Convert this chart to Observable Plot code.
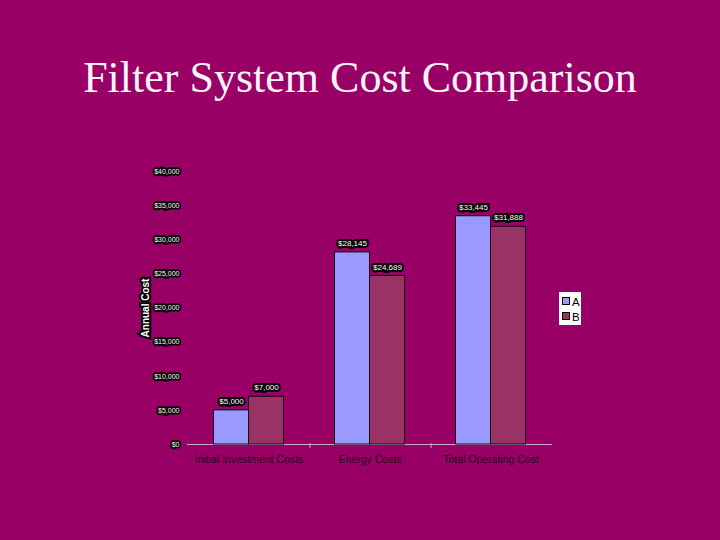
<!DOCTYPE html>
<html>
<head>
<meta charset="utf-8">
<script src="https://cdn.jsdelivr.net/npm/d3@7"></script>
<script src="https://cdn.jsdelivr.net/npm/@observablehq/plot@0.6"></script>
<style>
  html, body { margin: 0; padding: 0; }
  body { width: 720px; height: 540px; background: #990066; position: relative; overflow: hidden; font-family: "Liberation Sans", Arial, sans-serif; }
  #title { position: absolute; left: 0; top: 56px; width: 720px; text-align: center; font-family: "Liberation Serif", "Times New Roman", serif; font-size: 44px; line-height: 1; color: #fff4ff; }
  #chart { position: absolute; left: 0; top: 140px; }
  #legend { position: absolute; left: 559px; top: 292px; width: 22px; height: 33px; background: #ffffff; }
  .item { position: absolute; left: 3px; height: 12px; font-size: 11.5px; line-height: 12px; color: #000; }
  .sw { display: inline-block; width: 6px; height: 6px; border: 1px solid #000; margin-right: 2px; vertical-align: 1px; }
</style>
</head>
<body>
<div id="title">Filter System Cost Comparison</div>
<div id="chart"></div>
<div id="legend">
  <div class="item" style="top:4px"><span class="sw" style="background:#9999ff"></span>A</div>
  <div class="item" style="top:19px"><span class="sw" style="background:#993366"></span>B</div>
</div>
<script>
const categories = ["Initial Investment Costs", "Energy Costs", "Total Operating Cost"];
const seriesA = [5000, 28145, 33445];
const seriesB = [7000, 24689, 31888];
const yTicks = [0, 5000, 10000, 15000, 20000, 25000, 30000, 35000, 40000];
const seriesNames = ["A", "B"];
const seriesColors = ["#9999ff", "#993366"];

const fmt = d3.format("$,.0f");
const dataA = categories.map((c, i) => ({cat: c, value: seriesA[i]}));
const dataB = categories.map((c, i) => ({cat: c, value: seriesB[i]}));

const haloText = {
  fill: "white",
  stroke: "black",
  strokeWidth: 4,
  strokeLinejoin: "miter",
  paintOrder: "stroke",
  fontFamily: "Liberation Sans, Arial, sans-serif"
};

const chart = Plot.plot({
  width: 720,
  height: 400,
  marginLeft: 187,
  marginRight: 168,
  marginTop: 31,
  marginBottom: 96,
  style: {background: "transparent", overflow: "visible"},
  x: {domain: categories, paddingInner: 0.713, paddingOuter: 0.3565, label: null, axis: null},
  y: {domain: [0, 40000], label: null, axis: null},
  marks: [
    Plot.ruleY([0], {stroke: "#c9a9c4", strokeWidth: 1}),
    Plot.ruleX(categories.slice(0, 2), {x: d => d, y1: 0, y2: 0, dx: 61, insetBottom: -4, insetTop: -1, stroke: "#c9a9c4"}),
    Plot.barY(dataA, {x: "cat", y: "value", dx: -17.5, fill: seriesColors[0], stroke: "#1a0010", strokeWidth: 1}),
    Plot.barY(dataB, {x: "cat", y: "value", dx: 17.5, fill: seriesColors[1], stroke: "#1a0010", strokeWidth: 1}),
    Plot.text(dataA, {x: "cat", y: "value", text: d => fmt(d.value), dx: -17.5, dy: -9, fontSize: 8, ...haloText}),
    Plot.text(dataB, {x: "cat", y: "value", text: d => fmt(d.value), dx: 17.5, dy: -9, fontSize: 8, ...haloText}),
    Plot.text(yTicks, {y: d => d, text: d => fmt(d), frameAnchor: "left", textAnchor: "end", dx: -8, fontSize: 7, ...haloText, strokeWidth: 3.5}),
    Plot.text(["Annual Cost"], {frameAnchor: "left", textAnchor: "middle", dx: -42, rotate: -90, text: d => d, fontSize: 10, fontWeight: "bold", ...haloText, strokeWidth: 4}),
    Plot.axisX({domain: categories, tickSize: 0, tickPadding: 11, fontSize: 10.5, fill: "#1c0a16", fontFamily: "Liberation Sans, Arial, sans-serif", label: null})
  ]
});
document.getElementById("chart").appendChild(chart);
</script>
</body>
</html>
